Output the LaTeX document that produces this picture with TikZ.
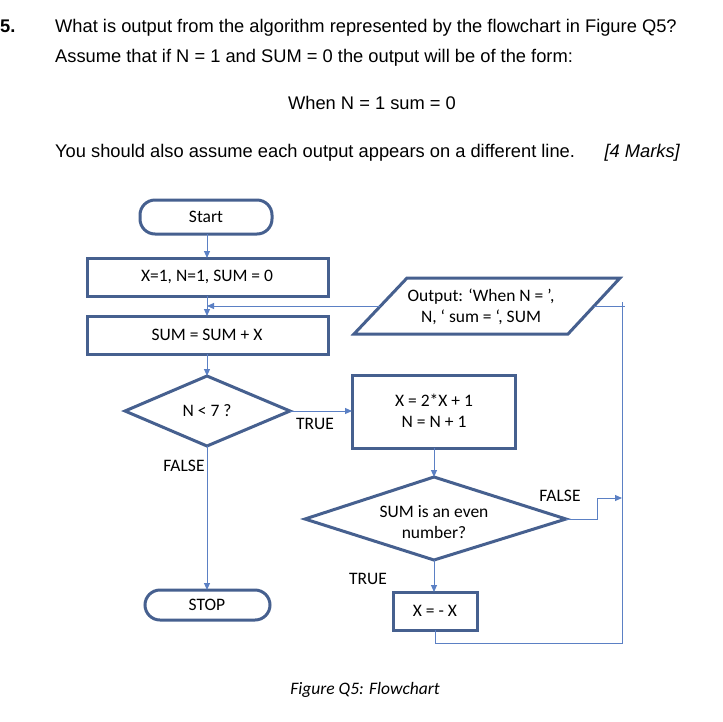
\documentclass[tikz,border=0pt]{standalone}
\usepackage{fontspec}
\setmainfont{Liberation Sans}
\newfontfamily\calfont{Carlito}
\usetikzlibrary{arrows.meta}
\definecolor{shp}{HTML}{46608F}
\definecolor{con}{HTML}{5B80C4}
\begin{document}
\begin{tikzpicture}[x=1pt,y=-1pt,
  fbox/.style={draw=shp,line width=3pt,fill=white},
  conn/.style={draw=con,line width=1pt},
  arr/.style={conn,-{Triangle[width=6pt,length=7pt]}},
  txt/.style={font=\fontsize{18.3}{22}\selectfont,anchor=base west,inner sep=0},
  lab/.style={font=\calfont\fontsize{17.5}{21}\selectfont,inner sep=0,align=center}]
\useasboundingbox (0,0) rectangle (723,721);
\fill[white] (0,0) rectangle (723,721);
\node[txt,font=\bfseries\fontsize{18.3}{22}\selectfont] (q) at (0,32) {5.};
\node[txt] (l1) at (55,32) {What is output from the algorithm represented by the flowchart in Figure Q5?};
\node[txt] (l2) at (55,62) {Assume that if N = 1 and SUM = 0 the output will be of the form:};
\node[txt,anchor=base] (l3) at (372,109) {When N = 1 sum = 0};
\node[txt] (l4) at (55,157) {You should also assume each output appears on a different line.};
\node[txt,anchor=base east,font=\itshape\fontsize{18.3}{22}\selectfont] (mk) at (680,157) {[4 Marks]};
% shapes
\draw[fbox,rounded corners=15pt] (140,200) rectangle (272,234);
\node[lab] (start) at (206,217) {Start};
\draw[fbox] (87,258) rectangle (328,296);
\node[lab] (init) at (207,277) {X=1, N=1, SUM = 0};
\draw[fbox] (87,316) rectangle (328,354);
\node[lab] (sum) at (207,335) {SUM = SUM + X};
\draw[fbox] (125,411) -- (207,376) -- (290,411) -- (207,446) -- cycle;
\node[lab] (d1) at (207,411) {N < 7 ?};
\draw[fbox,rounded corners=15pt] (145,590) rectangle (270,620);
\node[lab] (stop) at (207,605) {STOP};
\draw[fbox] (352,375) rectangle (515,448);
\node[lab] (upd) at (434,411) {X = 2*X + 1\\N = N + 1};
\draw[fbox] (305,519) -- (434,477) -- (566,519) -- (434,560) -- cycle;
\node[lab] (d2) at (434,522) {SUM is an even\\number?};
\draw[fbox] (393,592) rectangle (477,630);
\node[lab] (neg) at (435,611) {X = - X};
\draw[fbox] (407,278) -- (620,278) -- (568,334) -- (354,334) -- cycle;
\node[lab] (out) at (481,307) {Output: ‘When N = ’,\\N, ‘ sum = ‘, SUM};
% labels
\node[lab] (tr1) at (315,424) {TRUE};
\node[lab] (fa1) at (184,466) {FALSE};
\node[lab] (fa2) at (560,496) {FALSE};
\node[lab] (tr2) at (368,579) {TRUE};
% connectors
\coordinate (c1) at (207,234); \coordinate (c2) at (207,258);
\draw[arr] (c1) -- (c2);
\coordinate (c3) at (207,296); \coordinate (c4) at (207,316);
\draw[arr] (c3) -- (c4);
\coordinate (c5) at (207,354); \coordinate (c6) at (207,376);
\draw[arr] (c5) -- (c6);
\coordinate (c7) at (207,446); \coordinate (c8) at (207,590);
\draw[arr] (c7) -- (c8);
\coordinate (c9) at (290,411); \coordinate (c10) at (352,411);
\draw[arr] (c9) -- (c10);
\coordinate (c11) at (434,448); \coordinate (c12) at (434,477);
\draw[arr] (c11) -- (c12);
\coordinate (c13) at (434,560); \coordinate (c14) at (434,592);
\draw[arr] (c13) -- (c14);
\coordinate (c15) at (566,519); \coordinate (c16) at (622,498);
\draw[arr] (c15) -- (597,519) -- (597,498) -- (c16);
\coordinate (c17) at (435,630); \coordinate (c18) at (622,643);
\draw[conn] (c17) -- (435,643) -- (c18) -- (622,302);
\coordinate (c19) at (594,306); \coordinate (c20) at (625,306);
\draw[conn] (c19) -- (c20);
\coordinate (c21) at (380,306); \coordinate (c22) at (207,306);
\draw[arr] (c21) -- (c22);
\node[lab,font=\calfont\itshape\fontsize{17.5}{21}\selectfont] (cap) at (365,690) {Figure Q5: Flowchart};
\end{tikzpicture}
\end{document}
